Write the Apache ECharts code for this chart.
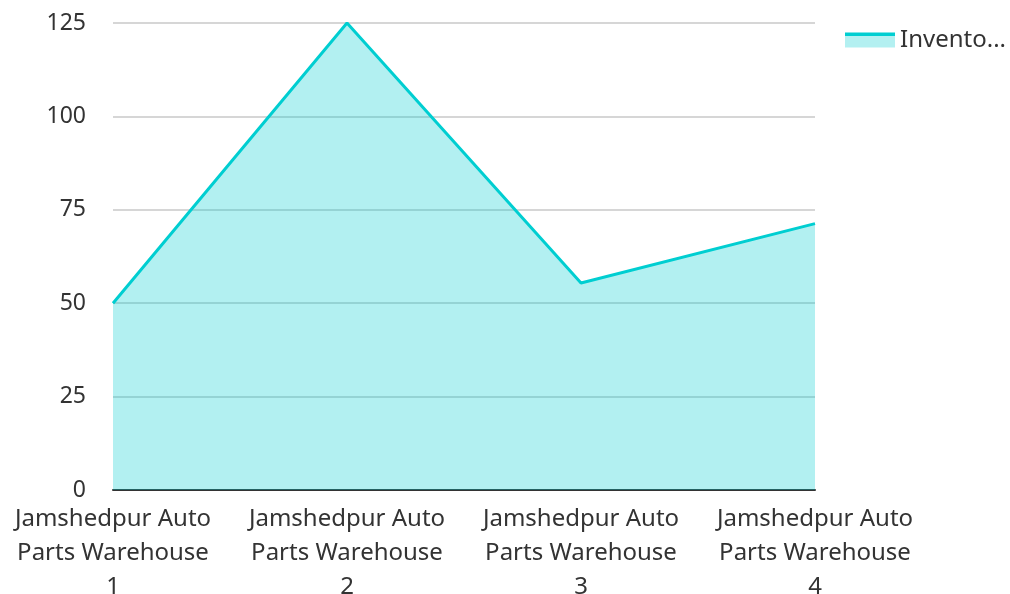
<!DOCTYPE html>
<html><head><meta charset="utf-8">
<script src="https://cdn.jsdelivr.net/npm/echarts@6/dist/echarts.min.js"></script>
<style>html,body{margin:0;padding:0;background:#fff}#c{width:1010px;height:594px}</style>
</head><body><div id="c"></div>
<script>
const categories = ["Jamshedpur Auto Parts Warehouse 1","Jamshedpur Auto Parts Warehouse 2","Jamshedpur Auto Parts Warehouse 3","Jamshedpur Auto Parts Warehouse 4"];
const seriesName = "Inventory Level";
const values = [50, 125, 55.4, 71.3];
const yTicks = {min: 0, max: 125, interval: 25};

const chart = echarts.init(document.getElementById('c'));
chart.setOption({
  animation: false,
  textStyle: {fontFamily: 'Noto Sans'},
  grid: {left: 113, right: 195, top: 23, bottom: 104, outerBoundsMode: 'none'},
  legend: {
    left: 840, top: 23, itemWidth: 50, itemHeight: 15, itemGap: 10,
    icon: 'rect',
    itemStyle: {color: {type: 'linear', x: 0, y: 0, x2: 0, y2: 1, colorStops: [
      {offset: 0, color: '#00CED1'}, {offset: 0.25, color: '#00CED1'},
      {offset: 0.25, color: '#b3f0f1'}, {offset: 1, color: '#b3f0f1'}]}},
    textStyle: {fontSize: 24, color: '#333', width: 108, overflow: 'truncate', fontFamily: 'Noto Sans', padding: [0,0,0,0]},
    data: [seriesName]
  },
  xAxis: {
    type: 'category', data: categories, boundaryGap: false,
    axisLine: {lineStyle: {color: '#333', width: 2}},
    axisTick: {show: false},
    axisLabel: {
      color: '#333', fontSize: 24, lineHeight: 34, margin: 12, interval: 0,
      formatter: v => { const m = v.match(/^(.*) (Auto) (Parts Warehouse) (\d+)$/); return m ? m[1]+' '+m[2]+'\n'+m[3]+'\n'+m[4] : v; }
    }
  },
  yAxis: {
    type: 'value', min: yTicks.min, max: yTicks.max, interval: yTicks.interval,
    axisLine: {show: false}, axisTick: {show: false},
    axisLabel: {color: '#333', fontSize: 23, margin: 27},
    splitLine: {lineStyle: {color: '#c8c8c8', width: 1.5}}
  },
  series: [{
    name: seriesName, type: 'line', data: values,
    symbol: 'none', lineStyle: {color: '#00CED1', width: 3},
    itemStyle: {color: '#00CED1'},
    areaStyle: {color: '#00CED1', opacity: 0.3}
  }]
});
</script></body></html>
